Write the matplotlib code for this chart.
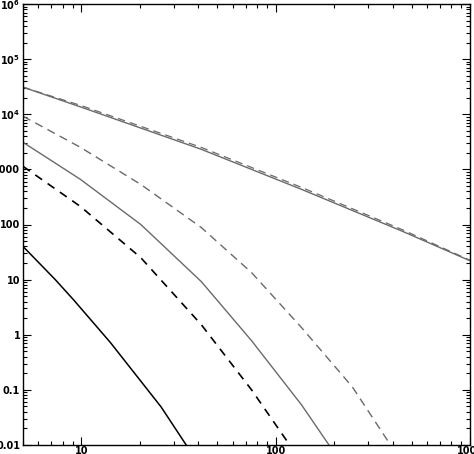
import matplotlib.pyplot as plt
from matplotlib.ticker import FixedLocator, FuncFormatter, LogLocator, NullFormatter

plt.rcParams["font.family"] = "DejaVu Sans"

# curves (x, y)
top_solid_x = [5, 10, 41.4, 136, 450, 1000]
top_solid_y = [31000, 13400, 2310, 433, 75, 22]

top_dash_x = [5, 10, 41.4, 136, 450, 1000]
top_dash_y = [31000, 14300, 2500, 470, 80, 22.5]

gray_dash_x = [5, 9.88, 20.2, 41.4, 75.1, 136, 248, 390]
gray_dash_y = [9200, 2510, 533, 88, 13.4, 1.34, 0.113, 0.01]

gray_solid_x = [5, 9.88, 20.2, 41.4, 75.1, 136, 188]
gray_solid_y = [3100, 658, 100, 9.2, 0.78, 0.053, 0.01]

black_dash_x = [5, 9.88, 20.2, 41.4, 75.1, 118]
black_dash_y = [1135, 212, 25, 1.52, 0.1, 0.01]

black_solid_x = [5, 7.33, 9.09, 14.1, 25.7, 34.6]
black_solid_y = [40, 10, 4.33, 0.72, 0.049, 0.01]

y_ticks = [0.01, 0.1, 1, 10, 100, 1000, 1e4, 1e5, 1e6]
y_labels = ["0.01", "0.1", "1", "10", "100", "1000", "$\\mathbf{10^4}$", "$\\mathbf{10^5}$", "$\\mathbf{10^6}$"]
x_ticks = [10, 100, 1000]
x_labels = ["10", "100", "1000"]

fig = plt.figure(figsize=(4.74, 4.54), dpi=100)
ax = fig.add_axes([23 / 474, 9 / 454, 447 / 474, 441 / 454])

gray = "#6a6a6a"
ax.plot(top_solid_x, top_solid_y, color=gray, lw=1.0)
ax.plot(top_dash_x, top_dash_y, color=gray, lw=0.9, ls=(0, (6, 4)))
ax.plot(gray_dash_x, gray_dash_y, color=gray, lw=1.0, ls=(0, (6, 4)))
ax.plot(gray_solid_x, gray_solid_y, color=gray, lw=1.0)
ax.plot(black_dash_x, black_dash_y, color="black", lw=1.2, ls=(0, (5, 4)))
ax.plot(black_solid_x, black_solid_y, color="black", lw=1.1)

ax.set_xscale("log")
ax.set_yscale("log")
ax.set_xlim(5, 1000)
ax.set_ylim(0.01, 1e6)

ax.yaxis.set_major_locator(FixedLocator(y_ticks))
ax.yaxis.set_major_formatter(FuncFormatter(lambda v, pos: y_labels[y_ticks.index(v)] if v in y_ticks else ""))
ax.xaxis.set_major_locator(FixedLocator(x_ticks))
ax.xaxis.set_major_formatter(FuncFormatter(lambda v, pos: x_labels[x_ticks.index(v)] if v in x_ticks else ""))
ax.xaxis.set_minor_locator(LogLocator(base=10, subs=range(2, 10)))
ax.yaxis.set_minor_locator(LogLocator(base=10, subs=range(2, 10)))
ax.xaxis.set_minor_formatter(NullFormatter())
ax.yaxis.set_minor_formatter(NullFormatter())

ax.tick_params(which="both", direction="in", top=True, right=True, width=0.8)
ax.tick_params(which="major", length=6, labelsize=7, pad=2)
ax.tick_params(axis="x", which="major", pad=1)
ax.tick_params(which="minor", length=3)
for lab in ax.get_xticklabels() + ax.get_yticklabels():
    lab.set_fontweight("bold")
for sp in ax.spines.values():
    sp.set_linewidth(1.0)

fig.savefig("out.png", dpi=100)
